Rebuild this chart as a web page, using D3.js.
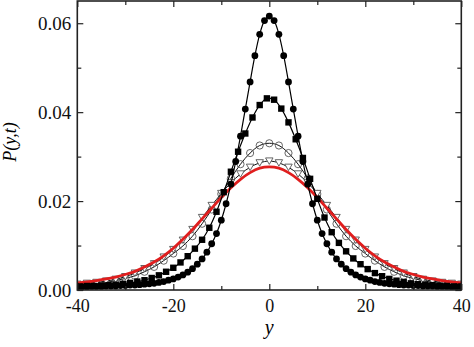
<!DOCTYPE html>
<html>
<head>
<meta charset="utf-8">
<script src="https://cdn.jsdelivr.net/npm/d3@7"></script>
<style>
  html, body { margin: 0; padding: 0; background: #fff; }
  svg { display: block; }
</style>
</head>
<body>
<svg id="chart" width="474" height="347"></svg>
<script>
// Distribution P(y,t) at successive times, with the stationary curve in red.

// filled circles, sampled every unit
const circlePos = d3.range(-40, 41, 1);
const circleP = [
  .0007,.0007,.0007,.0008,.0008,.0008,.0009,.0009,.0009,.0010,
  .0010,.0011,.0011,.0012,.0013,.0014,.0015,.0017,.0019,.0022,
  .0025,.0029,.0034,.0040,.0048,.0058,.0070,.0085,.0104,.0127,
  .0157,.0194,.0238,.0289,.0346,.0407,.0468,.0527,.0575,.0606,
  .0616,
  .0606,.0575,.0527,.0468,.0407,.0346,.0289,.0238,.0194,.0157,
  .0127,.0104,.0085,.0070,.0058,.0048,.0040,.0034,.0029,.0025,
  .0022,.0019,.0017,.0015,.0014,.0013,.0012,.0011,.0011,.0010,
  .0010,.0009,.0009,.0009,.0008,.0008,.0008,.0007,.0007,.0007
];

// filled squares, sampled every 1.5 units
const squarePos = d3.range(-39.5, 40.01, 1.5);
const squareP = [
  .0008,.0009,.0009,.0010,.0011,.0012,.0014,.0016,.0019,.0022,
  .0027,.0033,.0041,.0050,.0062,.0076,.0093,.0113,.0140,.0176,
  .0220,.0266,.0311,.0352,.0388,.0416,.0431,
  .0428,.0408,.0377,.0339,.0297,.0250,.0205,.0163,.0130,.0106,
  .0087,.0071,.0058,.0047,.0038,.0031,.0025,.0021,.0018,.0015,
  .0013,.0012,.0011,.0010,.0009,.0008,.0008
];

// open circles, every 2 units
const ringPos = d3.range(-40, 41, 2);
const ringP = [
  .0010,.0012,.0014,.0017,.0021,.0026,.0032,.0041,.0052,.0066,
  .0082,.0099,.0121,.0149,.0181,.0216,.0251,.0283,.0308,.0325,
  .0330,
  .0325,.0308,.0283,.0251,.0216,.0181,.0149,.0121,.0099,.0082,
  .0066,.0052,.0041,.0032,.0026,.0021,.0017,.0014,.0012,.0010
];

// open triangles, every 2 units
const triPos = d3.range(-40, 41, 2);
const triP = [
  .0013,.0015,.0017,.0020,.0024,.0030,.0038,.0048,.0059,.0074,
  .0091,.0112,.0136,.0163,.0190,.0217,.0241,.0261,.0276,.0286,
  .0290,
  .0286,.0276,.0261,.0241,.0217,.0190,.0163,.0136,.0112,.0091,
  .0074,.0059,.0048,.0038,.0030,.0024,.0020,.0017,.0015,.0013
];

// stationary distribution (red curve)
const redPos = d3.range(-40, 41, 2);
const redP = [
  .0016,.0018,.0021,.0025,.0029,.0035,.0042,.0052,.0063,.0077,
  .0094,.0114,.0136,.0160,.0184,.0208,.0230,.0249,.0264,.0274,
  .0277,
  .0274,.0264,.0249,.0230,.0208,.0184,.0160,.0136,.0114,.0094,
  .0077,.0063,.0052,.0042,.0035,.0029,.0025,.0021,.0018,.0016
];

const xMajor = [-40, -20, 0, 20, 40];
const xMinor = [-30, -10, 10, 30];
const yMajor = [0, 0.02, 0.04, 0.06];
const yMinor = [0.01, 0.03, 0.05];

const SERIF = "'Liberation Serif', 'Times New Roman', Times, serif";
const padL = 77.3, padR = 461.3, padT = 1, padB = 290;
const svg = d3.select("#chart");

const x = d3.scaleLinear().domain([-40, 40]).range([padL, padR]);
const y = d3.scaleLinear().domain([0, 0.065]).range([padB, padT]);

svg.append("defs").append("clipPath").attr("id", "plotclip")
  .append("rect").attr("x", padL).attr("y", padT - 6)
  .attr("width", padR - padL).attr("height", padB - padT + 6);

const plot = svg.append("g").attr("clip-path", "url(#plotclip)");

const zip = (xs, ys) => xs.map((v, i) => [v, ys[i]]);
const line = d3.line().x(d => x(d[0])).y(d => y(d[1])).curve(d3.curveCatmullRom);

function drawLine(data, color, width) {
  plot.append("path").datum(data)
    .attr("fill", "none").attr("stroke", color)
    .attr("stroke-width", width).attr("d", line);
}

const rings = zip(ringPos, ringP);
const tris = zip(triPos, triP);
const squares = zip(squarePos, squareP);
const circles = zip(circlePos, circleP);
const red = zip(redPos, redP);

// open-symbol series
drawLine(rings, "#111", 1);
plot.append("g").selectAll("circle").data(rings).join("circle")
  .attr("cx", d => x(d[0])).attr("cy", d => y(d[1])).attr("r", 3.6)
  .attr("fill", "none").attr("stroke", "#555").attr("stroke-width", 0.9);

drawLine(tris, "#111", 1);
const triSym = d3.symbol().type(d3.symbolTriangle).size(24);
plot.append("g").selectAll("path").data(tris).join("path")
  .attr("d", triSym)
  .attr("transform", d => `translate(${x(d[0])},${y(d[1]) - 1}) rotate(180)`)
  .attr("fill", "#fff").attr("stroke", "#555").attr("stroke-width", 0.9);

// stationary curve
drawLine(red, "#e01e1e", 2.8);

// filled series
drawLine(squares, "#000", 1.2);
plot.append("g").selectAll("rect").data(squares).join("rect")
  .attr("x", d => x(d[0]) - 3.2).attr("y", d => y(d[1]) - 3.2)
  .attr("width", 6.4).attr("height", 6.4).attr("fill", "#000");

drawLine(circles, "#000", 1.2);
plot.append("g").selectAll("circle").data(circles).join("circle")
  .attr("cx", d => x(d[0])).attr("cy", d => y(d[1])).attr("r", 3.4)
  .attr("fill", "#000");

// axes with inward ticks on all four sides
function styleAxis(g) {
  g.attr("font-family", SERIF);
  g.select(".domain").remove();
  g.selectAll(".tick line").attr("stroke", "#222").attr("stroke-width", 1.2);
  g.selectAll(".tick text").attr("fill", "#111").style("font-family", SERIF);
}
const fmtX = d => String(d);
svg.append("g").attr("transform", `translate(0,${padB})`)
  .call(d3.axisBottom(x).tickValues(xMajor).tickFormat(fmtX).tickSizeInner(-6).tickSizeOuter(0).tickPadding(9))
  .call(styleAxis).call(g => g.selectAll("text").style("font-size", "18px"));
svg.append("g").attr("transform", `translate(0,${padB})`)
  .call(d3.axisBottom(x).tickValues(xMinor).tickFormat("").tickSizeInner(-4).tickSizeOuter(0))
  .call(styleAxis);
svg.append("g").attr("transform", `translate(0,${padT})`)
  .call(d3.axisTop(x).tickValues(xMajor).tickFormat("").tickSizeInner(-6).tickSizeOuter(0))
  .call(styleAxis);
svg.append("g").attr("transform", `translate(0,${padT})`)
  .call(d3.axisTop(x).tickValues(xMinor).tickFormat("").tickSizeInner(-4).tickSizeOuter(0))
  .call(styleAxis);

svg.append("g").attr("transform", `translate(${padL},0)`)
  .call(d3.axisLeft(y).tickValues(yMajor).tickFormat(d3.format(".2f")).tickSizeInner(-6).tickSizeOuter(0).tickPadding(6))
  .call(styleAxis).call(g => g.selectAll("text").style("font-size", "19px"));
svg.append("g").attr("transform", `translate(${padL},0)`)
  .call(d3.axisLeft(y).tickValues(yMinor).tickFormat("").tickSizeInner(-4).tickSizeOuter(0))
  .call(styleAxis);
svg.append("g").attr("transform", `translate(${padR},0)`)
  .call(d3.axisRight(y).tickValues(yMajor).tickFormat("").tickSizeInner(-6).tickSizeOuter(0))
  .call(styleAxis);
svg.append("g").attr("transform", `translate(${padR},0)`)
  .call(d3.axisRight(y).tickValues(yMinor).tickFormat("").tickSizeInner(-4).tickSizeOuter(0))
  .call(styleAxis);

// frame
svg.append("rect").attr("x", padL).attr("y", padT)
  .attr("width", padR - padL).attr("height", padB - padT)
  .attr("fill", "none").attr("stroke", "#222").attr("stroke-width", 1.6);

// axis titles
svg.append("text").attr("x", (padL + padR) / 2).attr("y", 334)
  .attr("text-anchor", "middle")
  .style("font-family", SERIF)
  .style("font-style", "italic").style("font-size", "20px").text("y");

svg.append("text").attr("transform", "translate(16,142) rotate(-90)")
  .attr("text-anchor", "middle")
  .style("font-family", SERIF)
  .style("font-style", "italic").style("font-size", "18px").text("P(y,t)");
</script>
</body>
</html>
